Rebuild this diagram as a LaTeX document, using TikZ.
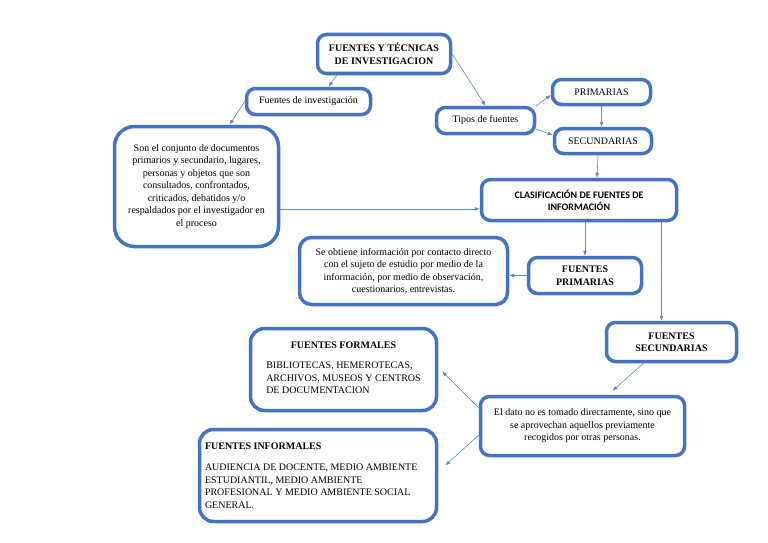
\documentclass[tikz,border=0pt]{standalone}
\usepackage{fontspec}
\setmainfont{Liberation Serif}
\newfontfamily\calibri{Carlito}
\usetikzlibrary{arrows.meta}
\definecolor{azul}{HTML}{4472C4}
\definecolor{azulflecha}{HTML}{5B86CC}
\tikzset{
  caja/.style={draw=azul, line width=3.5pt, rounded corners=9pt, align=center, inner sep=3pt,
    font=\fontsize{10}{12.5}\selectfont},
  flecha/.style={draw=azulflecha, line width=0.6pt, -{Latex[length=5pt,width=4pt]}}
}
\begin{document}
\begin{tikzpicture}[x=1pt, y=-1pt]
  \useasboundingbox[fill=white] (0,0) rectangle (768,543);
  % top row
  \node[caja, minimum width=133pt, minimum height=39pt] (titulo) at (384,54)
    {\bfseries FUENTES Y TÉCNICAS\\\bfseries DE INVESTIGACION};
  \node[caja, minimum width=124pt, minimum height=26pt] (fuentesinv) at (308.5,101.5) {Fuentes de investigación};
  \node[caja, minimum width=98pt, minimum height=26pt] (tipos) at (485.5,120.5) {Tipos de fuentes};
  \node[caja, minimum width=98pt, minimum height=25pt] (primarias) at (601.5,92) {PRIMARIAS};
  \node[caja, minimum width=97pt, minimum height=25pt] (secundarias) at (603,141) {SECUNDARIAS};
  % middle
  \node[caja, rounded corners=20pt, minimum width=164pt, minimum height=120pt] (conjunto) at (196.5,186.5)
    {Son el conjunto de documentos\\primarios y secundario, lugares,\\personas y objetos que son\\consultados, confrontados,\\criticados, debatidos y/o\\respaldados por el investigador en\\el proceso};
  \node[caja, minimum width=195pt, minimum height=41pt, font=\calibri\bfseries\fontsize{10}{12}\selectfont] (clasif) at (579,200)
    {CLASIFICACIÓN DE FUENTES DE\\INFORMACIÓN};
  \node[caja, rounded corners=12pt, minimum width=208pt, minimum height=67pt] (obtiene) at (403.5,271)
    {Se obtiene información por contacto directo\\con el sujeto de estudio por medio de la\\información, por medio de observación,\\cuestionarios, entrevistas.};
  \node[caja, minimum width=113pt, minimum height=36pt] (fprim) at (585,275.5)
    {\bfseries FUENTES\\\bfseries PRIMARIAS};
  \node[caja, minimum width=130pt, minimum height=39pt] (fsec) at (671.5,342)
    {\bfseries FUENTES\\\bfseries SECUNDARIAS};
  % bottom
  \node[caja, rounded corners=14pt, minimum width=186pt, minimum height=82pt] (formales) at (343.5,369.5)
    {\bfseries FUENTES FORMALES\\[11pt]
     \begin{tabular}{@{}l@{}}BIBLIOTECAS, HEMEROTECAS,\\ARCHIVOS, MUSEOS Y CENTROS\\DE DOCUMENTACION\end{tabular}};
  \node[caja, minimum width=204pt, minimum height=59pt] (dato) at (582.5,426)
    {El dato no es tomado directamente, sino que\\se aprovechan aquellos previamente\\recogidos por otras personas.};
  \node[caja, rounded corners=14pt, text width=226pt, inner xsep=5.5pt, minimum height=92pt, align=flush left] (informales) at (318,475.5)
    {{\bfseries FUENTES INFORMALES}\\[9pt]
     AUDIENCIA DE DOCENTE, MEDIO AMBIENTE\\ESTUDIANTIL, MEDIO AMBIENTE\\PROFESIONAL Y MEDIO AMBIENTE SOCIAL\\GENERAL.};
  % connectors
  \coordinate (fsecin) at ([xshift=-10pt]fsec.north);
  \draw[flecha] ([xshift=21pt]titulo.south west) -- ([xshift=20pt]fuentesinv.north);
  \draw[flecha] (fuentesinv.west) -- ([xshift=33pt]conjunto.north);
  \draw[flecha] (titulo.east) -- (tipos.north);
  \draw[flecha] (tipos.north east) -- ([yshift=-3pt]primarias.west);
  \draw[flecha] ([yshift=6pt]tipos.south east) -- ([yshift=6pt]secundarias.west);
  \draw[flecha] (primarias.south) -- (primarias.south |- secundarias.north);
  \draw[flecha] ([xshift=-5pt]secundarias.south) -- ([xshift=-6pt]clasif.north -| secundarias.south);
  \draw[flecha] ([yshift=-22.5pt]conjunto.east) -- ([yshift=-9pt]clasif.west);
  \draw[flecha] (clasif.south -| fprim.north) -- (fprim.north);
  \draw[flecha] (fprim.west) -- (fprim.west -| obtiene.east);
  \draw[flecha] (fsecin |- clasif.south) -- (fsecin);
  \draw[flecha] ([xshift=-28pt]fsec.south) -- ([xshift=30pt,yshift=4pt]dato.north);
  \draw[flecha] ([yshift=18pt]dato.west) -- ([xshift=4pt,yshift=-2pt]formales.east);
  \draw[flecha] ([yshift=-9pt]dato.west) -- ([xshift=7pt,yshift=10pt]informales.east);
\end{tikzpicture}
\end{document}
